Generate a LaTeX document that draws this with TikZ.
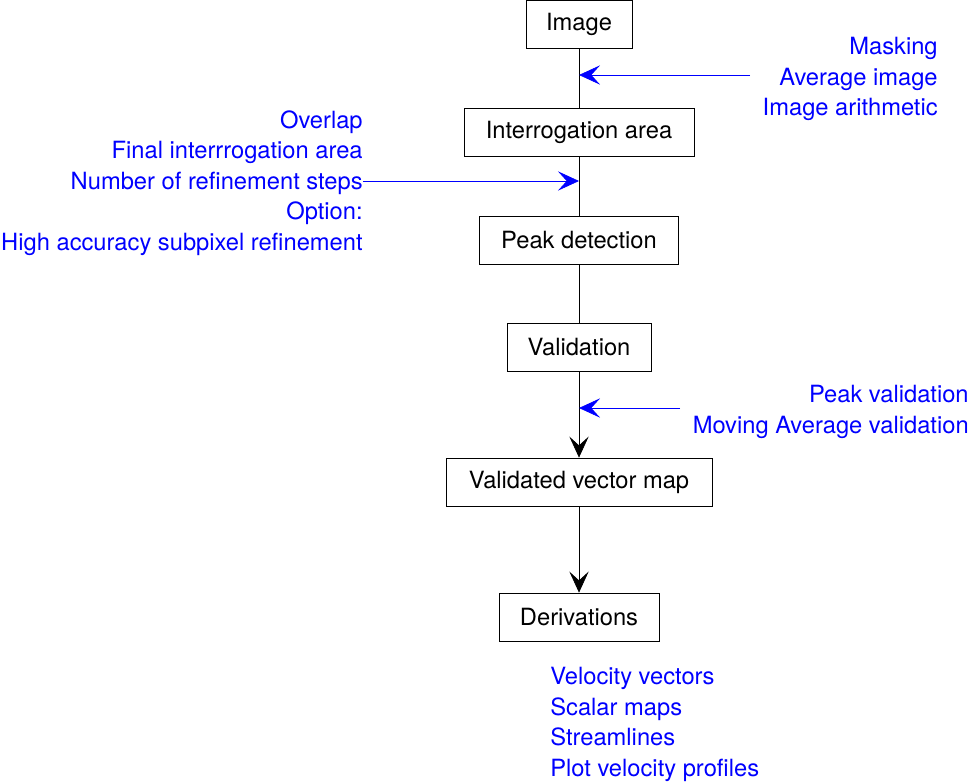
\documentclass[tikz,border=0pt]{standalone}
\usepackage{fontspec}
\setmainfont{TeX Gyre Heros}
\usetikzlibrary{arrows.meta, positioning}
\definecolor{noteBlue}{RGB}{0, 0, 255}

\begin{document}
\begin{tikzpicture}[
    x=0.02cm, y=-0.02cm,
    stage/.style={rectangle, draw=black, minimum height=0.96cm, font=\fontsize{13.5}{16}\selectfont, inner sep=0pt},
    note/.style={text=noteBlue, font=\fontsize{13.5}{17.4}\selectfont, inner sep=0pt},
    arrow/.style={-{Stealth[length=12pt, width=11pt, inset=5pt]}},
    blue arrow/.style={arrow, draw=noteBlue}
]
\useasboundingbox (0,0) rectangle (969,783);

% Stages
\node[stage, minimum width=2.12cm] (image) at (579,24) {Image};
\node[stage, minimum width=4.6cm] (area) at (579,132) {Interrogation area};
\node[stage, minimum width=3.98cm] (peak) at (579,240) {Peak detection};
\node[stage, minimum width=2.88cm] (valid) at (579,347) {Validation};
\node[stage, minimum width=5.32cm] (vmap) at (579,482) {Validated vector map};
\node[stage, minimum width=3.2cm] (deriv) at (579,617) {Derivations};

% Notes
\node[note, anchor=east, align=right] (pre) at (938,79) {Masking\\Average image\\Image arithmetic};
\node[note, anchor=east, align=right] (cross) at (363,183) {Overlap\\Final interrrogation area\\Number of refinement steps\\Option:\\High accuracy subpixel refinement};
\node[note, anchor=east, align=right] (post) at (969,412) {Peak validation\\Moving Average validation};
\node[note, anchor=north west, align=left] (out) at (550,667) {Velocity vectors\\Scalar maps\\Streamlines\\Plot velocity profiles};

% Connectors
\coordinate (c1) at (579,75);
\coordinate (c2) at (579,181);
\coordinate (c3) at (579,408);
\coordinate (s1) at (750,75);
\coordinate (s2) at (363,181);
\coordinate (s3) at (680,408);
\draw (image) -- (area);
\draw (area) -- (peak);
\draw (peak) -- (valid);
\draw[arrow] (valid) -- (vmap);
\draw[arrow] (vmap) -- (deriv);
\draw[blue arrow] (s1) -- (c1);
\draw[blue arrow] (s2) -- (c2);
\draw[blue arrow] (s3) -- (c3);

\end{tikzpicture}
\end{document}
